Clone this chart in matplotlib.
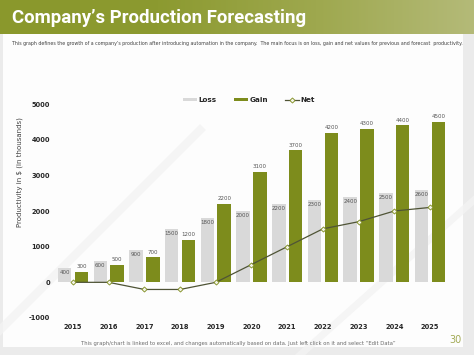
import matplotlib
matplotlib.use("Agg")
import matplotlib.pyplot as plt
import numpy as np
from matplotlib.patches import Rectangle
from matplotlib.lines import Line2D
from matplotlib.patches import Patch
from matplotlib.colors import LinearSegmentedColormap

years = ["2015", "2016", "2017", "2018", "2019", "2020", "2021", "2022", "2023", "2024", "2025"]
loss = [400, 600, 900, 1500, 1800, 2000, 2200, 2300, 2400, 2500, 2600]
gain = [300, 500, 700, 1200, 2200, 3100, 3700, 4200, 4300, 4400, 4500]
net = [0, 0, -200, -200, 0, 500, 1000, 1500, 1700, 2000, 2100]
yticks = [-1000, 0, 1000, 2000, 3000, 4000, 5000]

OLIVE = "#7d8c1c"
LGRAY = "#d9d9d9"

W, H = 474, 355
fig = plt.figure(figsize=(W / 100, H / 100), dpi=100)
fig.patch.set_facecolor("#ebebeb")

# background layer
bg = fig.add_axes([0, 0, 1, 1], zorder=0)
bg.axis("off")
bg.add_patch(Rectangle((3, 34), 460, 313, facecolor="#fdfdfd", edgecolor="none"))
bg.plot([0, 200], [330, 130], color="#f3f3f3", lw=6, alpha=0.8)
bg.plot([300, 474], [355, 200], color="#f3f3f3", lw=5, alpha=0.8)
grad = np.linspace(0, 1, 256)[None, :]
cmap = LinearSegmentedColormap.from_list("hdr", ["#8a982c", "#8c9a30", "#9ea84e", "#b4ba78"])
bg.imshow(grad, extent=(0, W, 34, 0), aspect="auto", cmap=cmap, zorder=1)
bg.set_xlim(0, W)
bg.set_ylim(H, 0)

fig.text(12 / W, 1 - 18 / H, "Company\u2019s Production Forecasting", color="white",
         fontsize=13.4, fontweight="bold", ha="left", va="center",
         family=["Roboto", "DejaVu Sans"], zorder=5)
fig.text(12 / W, 1 - 44 / H,
         "This graph defines the growth of a company\u2019s production after introducing automation in the company.  The main focus is on loss, gain and net values for previous and forecast  productivity.",
         color="#404040", fontsize=3.4, ha="left", va="center", zorder=5)
fig.text(238 / W, 1 - 344 / H,
         "This graph/chart is linked to excel, and changes automatically based on data. Just left click on it and select \u201cEdit Data\u201d",
         color="#6b6b6b", fontsize=3.8, ha="center", va="center", zorder=5)
fig.text(455 / W, 1 - 340 / H, "30", color="#a2aa55", fontsize=7, ha="center", va="center", zorder=5)

# main axes
ax_left, ax_right = 53, 455
ax_top, ax_bot = 104, 318
ax = fig.add_axes([ax_left / W, 1 - ax_bot / H, (ax_right - ax_left) / W, (ax_bot - ax_top) / H], zorder=2)
ax.patch.set_alpha(0)
x = np.arange(len(years))
bw = 0.38
off = 0.235
ax.bar(x - off, loss, bw, color=LGRAY, label="Loss", zorder=2)
ax.bar(x + off, gain, bw, color=OLIVE, label="Gain", zorder=2)
ax.plot(x, net, color="#4f5436", lw=0.9, marker="D", markersize=2.6,
        markerfacecolor="#f4f4e8", markeredgecolor=OLIVE, markeredgewidth=0.6, zorder=3, label="Net")

for xi, v in zip(x, loss):
    ax.text(xi - off, v - 60, f"{v}", ha="center", va="top", fontsize=4, color="#555555", zorder=4)
for xi, v in zip(x, gain):
    ax.text(xi + off, v + 80, f"{v}", ha="center", va="bottom", fontsize=4, color="#555555", zorder=4)

ax.set_xlim((ax_left - 73) / 35.7, 10 + (ax_right - 430) / 35.7)
ax.set_ylim(-1000, 5000)
ax.set_xticks(x)
ax.set_xticklabels(years, fontsize=4.8, fontweight="bold", color="#262626")
ax.set_yticks(yticks)
ax.set_yticklabels([str(t) for t in yticks], fontsize=4.8, fontweight="bold", color="#262626")
ax.tick_params(axis="both", length=0)
ax.tick_params(axis="x", pad=4.5)
ax.tick_params(axis="y", pad=2)
for s in ax.spines.values():
    s.set_visible(False)

fig.text(20 / W, 1 - 172 / H, "Productivity in $ (in thousands)", rotation=90, fontsize=5,
         color="#404040", ha="center", va="center", zorder=5)

handles = [Patch(facecolor=LGRAY, label="Loss"), Patch(facecolor=OLIVE, label="Gain"),
           Line2D([0], [0], color="#4f5436", lw=0.9, marker="D", markersize=2.6,
                  markerfacecolor="#f4f4e8", markeredgecolor=OLIVE, markeredgewidth=0.6, label="Net")]
leg = fig.legend(handles=handles, loc="center", bbox_to_anchor=(249 / W, 1 - 100 / H), ncol=3,
                 frameon=False, handlelength=1.9, handleheight=0.35,
                 columnspacing=2.4, handletextpad=0.2, prop={"weight": "bold", "size": 5.2})
for t in leg.get_texts():
    t.set_color("#262626")

fig.savefig("out.png", dpi=100, facecolor=fig.get_facecolor())
